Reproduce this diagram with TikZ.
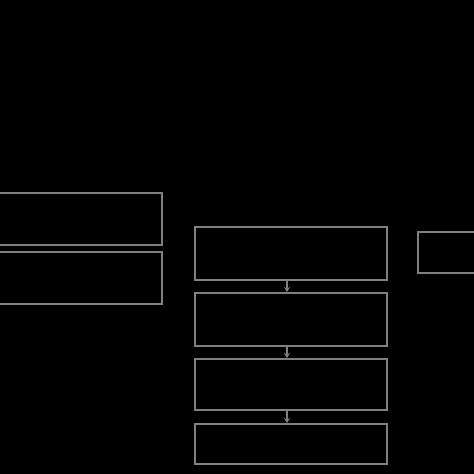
\documentclass[tikz,border=0pt]{standalone}
\usetikzlibrary{arrows.meta}
\definecolor{boxgray}{RGB}{128,128,128}
\begin{document}
\begin{tikzpicture}[x=1pt,y=1pt,
  box/.style={draw=boxgray, line width=2pt, rectangle, inner sep=0pt},
  flow/.style={draw=boxgray, line width=1.6pt, -{Stealth[length=5pt,width=6pt]}}]
\fill[black] (0,0) rectangle (474,474);
\useasboundingbox (0,0) rectangle (474,474);
\clip (0,0) rectangle (474,474);
\node[box, minimum width=172pt, minimum height=52pt] (L1) at (76,255) {};
\node[box, minimum width=172pt, minimum height=52pt] (L2) at (76,196) {};
\node[box, minimum width=192pt, minimum height=53pt] (A) at (291,220.5) {};
\node[box, minimum width=192pt, minimum height=53pt] (B) at (291,154.5) {};
\node[box, minimum width=192pt, minimum height=51pt] (C) at (291,89.5) {};
\node[box, minimum width=192pt, minimum height=40pt] (D) at (291,30) {};
\node[box, minimum width=66pt, minimum height=41pt] (R) at (451,221.5) {};
\draw[flow] ([xshift=-4pt]A.south) -- ([xshift=-4pt]B.north);
\draw[flow] ([xshift=-4pt]B.south) -- ([xshift=-4pt]C.north);
\draw[flow] ([xshift=-4pt]C.south) -- ([xshift=-4pt]D.north);
\end{tikzpicture}
\end{document}
